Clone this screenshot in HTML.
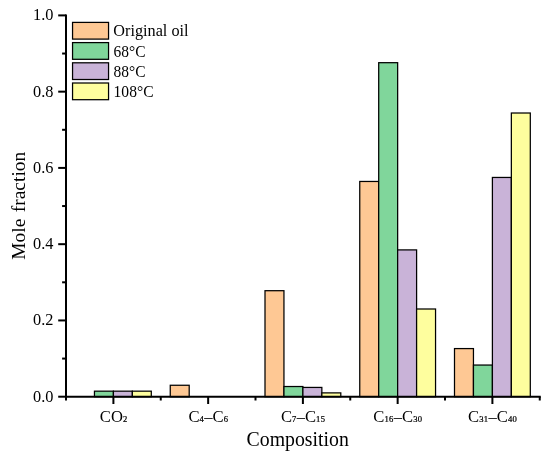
<!DOCTYPE html>
<html><head><meta charset="utf-8"><title>Mole fraction vs Composition</title>
<style>html,body{margin:0;padding:0;background:#fff}svg{display:block}text{font-family:"Liberation Serif",serif;fill:#000}</style></head><body>
<svg width="550" height="460" viewBox="0 0 550 460">
<rect width="550" height="460" fill="#fff"/>
<rect x="94.45" y="391.17" width="18.95" height="5.53" fill="#80D69B" stroke="#000" stroke-width="1.25"/>
<rect x="113.40" y="391.17" width="18.95" height="5.53" fill="#C9B3D8" stroke="#000" stroke-width="1.25"/>
<rect x="132.35" y="391.17" width="18.95" height="5.53" fill="#FEFE9E" stroke="#000" stroke-width="1.25"/>
<rect x="170.25" y="385.26" width="18.95" height="11.44" fill="#FEC894" stroke="#000" stroke-width="1.25"/>
<rect x="265.00" y="290.70" width="18.95" height="106.00" fill="#FEC894" stroke="#000" stroke-width="1.25"/>
<rect x="283.95" y="386.52" width="18.95" height="10.18" fill="#80D69B" stroke="#000" stroke-width="1.25"/>
<rect x="302.90" y="387.43" width="18.95" height="9.27" fill="#C9B3D8" stroke="#000" stroke-width="1.25"/>
<rect x="321.85" y="392.89" width="18.95" height="3.81" fill="#FEFE9E" stroke="#000" stroke-width="1.25"/>
<rect x="359.75" y="181.46" width="18.95" height="215.24" fill="#FEC894" stroke="#000" stroke-width="1.25"/>
<rect x="378.70" y="62.68" width="18.95" height="334.02" fill="#80D69B" stroke="#000" stroke-width="1.25"/>
<rect x="397.65" y="249.90" width="18.95" height="146.80" fill="#C9B3D8" stroke="#000" stroke-width="1.25"/>
<rect x="416.60" y="309.00" width="18.95" height="87.70" fill="#FEFE9E" stroke="#000" stroke-width="1.25"/>
<rect x="454.50" y="348.58" width="18.95" height="48.12" fill="#FEC894" stroke="#000" stroke-width="1.25"/>
<rect x="473.45" y="365.05" width="18.95" height="31.65" fill="#80D69B" stroke="#000" stroke-width="1.25"/>
<rect x="492.40" y="177.45" width="18.95" height="219.25" fill="#C9B3D8" stroke="#000" stroke-width="1.25"/>
<rect x="511.35" y="113.01" width="18.95" height="283.69" fill="#FEFE9E" stroke="#000" stroke-width="1.25"/>
<g stroke="#000" stroke-width="2" fill="none" stroke-linecap="butt">
<path d="M66.0 14.40 V397.70"/>
<path d="M65.0 396.7 H540.75"/>
<path d="M58.2 396.70 H66.0"/>
<path d="M62.1 358.57 H66.0"/>
<path d="M58.2 320.44 H66.0"/>
<path d="M62.1 282.31 H66.0"/>
<path d="M58.2 244.18 H66.0"/>
<path d="M62.1 206.05 H66.0"/>
<path d="M58.2 167.92 H66.0"/>
<path d="M62.1 129.79 H66.0"/>
<path d="M58.2 91.66 H66.0"/>
<path d="M62.1 53.53 H66.0"/>
<path d="M58.2 15.40 H66.0"/>
<path d="M113.40 396.7 V404.0"/>
<path d="M208.15 396.7 V404.0"/>
<path d="M302.90 396.7 V404.0"/>
<path d="M397.65 396.7 V404.0"/>
<path d="M492.40 396.7 V404.0"/>
<path d="M66.00 396.7 V400.5"/>
<path d="M160.75 396.7 V400.5"/>
<path d="M255.50 396.7 V400.5"/>
<path d="M350.25 396.7 V400.5"/>
<path d="M445.00 396.7 V400.5"/>
<path d="M539.75 396.7 V400.5"/>
</g>
<text transform="translate(53.40 401.65) scale(0.96 1)" font-size="17" text-anchor="end">0.0</text>
<text transform="translate(53.40 325.39) scale(0.96 1)" font-size="17" text-anchor="end">0.2</text>
<text transform="translate(53.40 249.13) scale(0.96 1)" font-size="17" text-anchor="end">0.4</text>
<text transform="translate(53.40 172.87) scale(0.96 1)" font-size="17" text-anchor="end">0.6</text>
<text transform="translate(53.40 96.61) scale(0.96 1)" font-size="17" text-anchor="end">0.8</text>
<text transform="translate(53.40 20.35) scale(0.96 1)" font-size="17" text-anchor="end">1.0</text>
<text transform="translate(113.70 421.90) scale(0.955 1)" font-size="17.4" text-anchor="middle">CO<tspan font-size="9.0" letter-spacing="0.4" stroke="#000" stroke-width="0.25">2</tspan></text>
<text transform="translate(208.45 421.90) scale(0.955 1)" font-size="17.4" text-anchor="middle">C<tspan font-size="9.0" letter-spacing="0.4" stroke="#000" stroke-width="0.25">4</tspan>–C<tspan font-size="9.0" letter-spacing="0.4" stroke="#000" stroke-width="0.25">6</tspan></text>
<text transform="translate(303.20 421.90) scale(0.955 1)" font-size="17.4" text-anchor="middle">C<tspan font-size="9.0" letter-spacing="0.4" stroke="#000" stroke-width="0.25">7</tspan>–C<tspan font-size="9.0" letter-spacing="0.4" stroke="#000" stroke-width="0.25">15</tspan></text>
<text transform="translate(397.95 421.90) scale(0.955 1)" font-size="17.4" text-anchor="middle">C<tspan font-size="9.0" letter-spacing="0.4" stroke="#000" stroke-width="0.25">16</tspan>–C<tspan font-size="9.0" letter-spacing="0.4" stroke="#000" stroke-width="0.25">30</tspan></text>
<text transform="translate(492.70 421.90) scale(0.955 1)" font-size="17.4" text-anchor="middle">C<tspan font-size="9.0" letter-spacing="0.4" stroke="#000" stroke-width="0.25">31</tspan>–C<tspan font-size="9.0" letter-spacing="0.4" stroke="#000" stroke-width="0.25">40</tspan></text>
<text transform="translate(297.70 446.40) scale(0.957 1)" font-size="20.7" text-anchor="middle">Composition</text>
<text word-spacing="1.4" transform="translate(24.60 205.70) rotate(-90)" font-size="19.5" text-anchor="middle">Mole fraction</text>
<rect x="72.55" y="22.40" width="36" height="16.7" fill="#FEC894" stroke="#000" stroke-width="1.25"/>
<text transform="translate(113.30 36.30) scale(0.955 1)" font-size="17">Original oil</text>
<rect x="72.55" y="42.60" width="36" height="16.7" fill="#80D69B" stroke="#000" stroke-width="1.25"/>
<text transform="translate(113.60 56.50) scale(0.91 1)" font-size="17">68°C</text>
<rect x="72.55" y="62.80" width="36" height="16.7" fill="#C9B3D8" stroke="#000" stroke-width="1.25"/>
<text transform="translate(113.60 76.70) scale(0.91 1)" font-size="17">88°C</text>
<rect x="72.55" y="83.00" width="36" height="16.7" fill="#FEFE9E" stroke="#000" stroke-width="1.25"/>
<text transform="translate(113.60 96.90) scale(0.915 1)" font-size="17">108°C</text>
</svg></body></html>
